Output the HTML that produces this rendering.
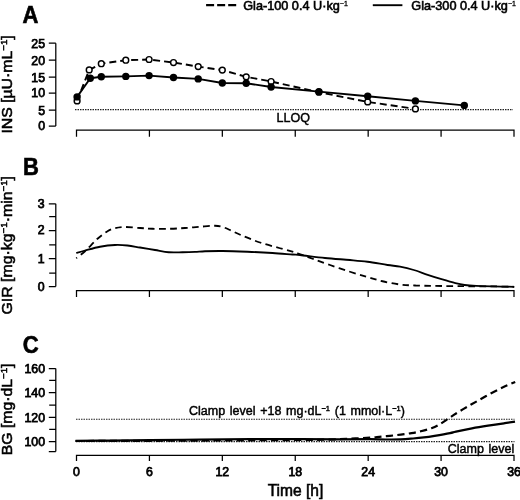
<!DOCTYPE html>
<html><head><meta charset="utf-8"><title>Figure</title>
<style>
html,body{margin:0;padding:0;background:#fff;}
body{width:520px;height:500px;overflow:hidden;}
svg{display:block;font-family:"Liberation Sans",sans-serif;fill:#000;}
.ax{fill:none;stroke:#000;stroke-width:1.25;}
.ln{fill:none;stroke:#000;stroke-width:1.9;stroke-linejoin:round;}
.lb2{stroke-width:1.8;}
.lc2{stroke-width:2.2;}
.da{stroke-dasharray:7 4;}
.dl{stroke-dasharray:8 3.05;stroke-width:2.1;}
.db{stroke-dasharray:6.6 4.4;}
.dc{stroke-dasharray:7.2 4.3;}
.dot{fill:none;stroke:#222;stroke-width:1.1;stroke-dasharray:1.5 1.0;}
.tk{font-size:12.3px;stroke:#000;stroke-width:0.75;}
.lb{font-size:12.5px;stroke:#000;stroke-width:0.45;word-spacing:1.2px;}
.lg{font-size:12.7px;stroke:#000;stroke-width:0.6;}
.pn{font-size:23.2px;font-weight:bold;stroke:#000;stroke-width:0.6;}
.yl{font-size:15.5px;stroke:#000;stroke-width:0.55;}
.xl{font-size:15.6px;stroke:#000;stroke-width:0.55;}
.fc{fill:#000;stroke:none;}
.oc{fill:#fff;stroke:#000;stroke-width:1.45;}
</style></head><body>
<svg width="520" height="500" viewBox="0 0 520 500">
<rect width="520" height="500" fill="#fff"/>

<path d="M206.1,5.1 H236.2" class="ln dl"/>
<text x="243.2" y="9.7" class="lg">Gla-100 0.4 U·kg<tspan dy="-4" font-size="7" stroke-width="0.3">−1</tspan></text>
<path d="M372.8,5.2 H402.4" class="ln" stroke-width="1.6"/>
<text x="411.3" y="9.7" class="lg">Gla-300 0.4 U·kg<tspan dy="-4" font-size="7" stroke-width="0.3">−1</tspan></text>
<text transform="translate(22.6,22.9) scale(0.95,1)" class="pn">A</text>
<path d="M55.8,43.20 V126.00 M48.8,126.00 H55.8 M48.8,110.20 H55.8 M48.8,93.00 H55.8 M48.8,77.20 H55.8 M48.8,60.20 H55.8 M48.8,43.20 H55.8" class="ax"/>
<text x="45" y="130.40" text-anchor="end" class="tk">0</text>
<text x="45" y="114.60" text-anchor="end" class="tk">5</text>
<text x="45" y="97.40" text-anchor="end" class="tk">10</text>
<text x="45" y="81.60" text-anchor="end" class="tk">15</text>
<text x="45" y="64.60" text-anchor="end" class="tk">20</text>
<text x="45" y="47.60" text-anchor="end" class="tk">25</text>
<path d="M76.5,136.7 V130.2 H514.0 V136.7 M149.42,130.2 V136.7 M222.33,130.2 V136.7 M295.25,130.2 V136.7 M368.17,130.2 V136.7 M441.08,130.2 V136.7" class="ax"/>
<path d="M75,109.6 H513" class="dot"/>
<text x="276.6" y="121.6" class="lb">LLOQ</text>
<path d="M77.10,100.90 L89.20,69.90 L101.30,63.70 L125.80,60.20 L149.10,59.50 L173.50,62.50 L198.20,66.60 L222.30,70.10 L246.20,76.80 L271.10,81.50 L318.90,92.20 L367.70,101.90 L415.40,108.90" class="ln da"/>
<path d="M77.10,96.90 L90.30,78.30 L101.30,76.80 L125.80,76.40 L149.10,75.60 L173.50,77.50 L198.20,78.90 L222.30,83.00 L246.20,83.20 L271.10,87.00 L318.90,91.60 L367.70,96.20 L415.40,100.90 L464.30,105.40" class="ln"/>
<circle cx="77.1" cy="100.9" r="2.9" class="oc"/>
<circle cx="89.2" cy="69.9" r="2.9" class="oc"/>
<circle cx="101.3" cy="63.7" r="2.9" class="oc"/>
<circle cx="125.8" cy="60.2" r="2.9" class="oc"/>
<circle cx="149.1" cy="59.5" r="2.9" class="oc"/>
<circle cx="173.5" cy="62.5" r="2.9" class="oc"/>
<circle cx="198.2" cy="66.6" r="2.9" class="oc"/>
<circle cx="222.3" cy="70.1" r="2.9" class="oc"/>
<circle cx="246.2" cy="76.8" r="2.9" class="oc"/>
<circle cx="271.1" cy="81.5" r="2.9" class="oc"/>
<circle cx="318.9" cy="92.2" r="2.9" class="oc"/>
<circle cx="367.7" cy="101.9" r="2.9" class="oc"/>
<circle cx="415.4" cy="108.9" r="2.9" class="oc"/>
<circle cx="77.1" cy="96.9" r="3.7" class="fc"/>
<circle cx="90.3" cy="78.3" r="3.7" class="fc"/>
<circle cx="101.3" cy="76.8" r="3.7" class="fc"/>
<circle cx="125.8" cy="76.4" r="3.7" class="fc"/>
<circle cx="149.1" cy="75.6" r="3.7" class="fc"/>
<circle cx="173.5" cy="77.5" r="3.7" class="fc"/>
<circle cx="198.2" cy="78.9" r="3.7" class="fc"/>
<circle cx="222.3" cy="83" r="3.7" class="fc"/>
<circle cx="246.2" cy="83.2" r="3.7" class="fc"/>
<circle cx="271.1" cy="87" r="3.7" class="fc"/>
<circle cx="318.9" cy="91.6" r="3.7" class="fc"/>
<circle cx="367.7" cy="96.2" r="3.7" class="fc"/>
<circle cx="415.4" cy="100.9" r="3.7" class="fc"/>
<circle cx="464.3" cy="105.4" r="3.7" class="fc"/>
<text transform="translate(12.4,133.6) rotate(-90)" class="yl" textLength="98.3" lengthAdjust="spacingAndGlyphs">INS [µU·mL<tspan dy="-5" font-size="9.5">−1</tspan><tspan dy="5">]</tspan></text>
<text transform="translate(22.9,174.9) scale(0.95,1)" class="pn">B</text>
<path d="M55.8,203.80 V286.60 M48.8,286.60 H55.8 M48.8,258.60 H55.8 M48.8,230.50 H55.8 M48.8,203.80 H55.8 M49.199999999999996,273.00 H55.8 M49.199999999999996,244.80 H55.8 M49.199999999999996,216.60 H55.8" class="ax"/>
<text x="44.6" y="290.50" text-anchor="end" class="tk">0</text>
<text x="44.6" y="262.50" text-anchor="end" class="tk">1</text>
<text x="44.6" y="234.40" text-anchor="end" class="tk">2</text>
<text x="44.6" y="207.70" text-anchor="end" class="tk">3</text>
<path d="M76.5,297.0 V290.5 H514.0 V297.0 M149.42,290.5 V297.0 M222.33,290.5 V297.0 M295.25,290.5 V297.0 M368.17,290.5 V297.0 M441.08,290.5 V297.0" class="ax"/>
<path d="M76.25,258.25 C77.71,257.08 81.46,254.50 85.00,251.25 C88.54,248.00 93.75,242.08 97.50,238.75 C101.25,235.42 104.58,233.01 107.50,231.25 C110.42,229.49 112.08,228.91 115.00,228.20 C117.92,227.49 120.83,227.03 125.00,227.00 C129.17,226.97 135.42,227.71 140.00,228.00 C144.58,228.29 147.50,228.62 152.50,228.75 C157.50,228.88 164.58,228.88 170.00,228.75 C175.42,228.62 180.00,228.33 185.00,228.00 C190.00,227.67 195.00,227.12 200.00,226.75 C205.00,226.38 211.25,225.71 215.00,225.75 C218.75,225.79 220.00,226.29 222.50,227.00 C225.00,227.71 226.67,228.54 230.00,230.00 C233.33,231.46 237.50,233.67 242.50,235.75 C247.50,237.83 253.75,240.42 260.00,242.50 C266.25,244.58 273.75,246.46 280.00,248.25 C286.25,250.04 292.08,251.50 297.50,253.25 C302.92,255.00 307.08,256.79 312.50,258.75 C317.92,260.71 323.75,262.83 330.00,265.00 C336.25,267.17 343.75,269.75 350.00,271.75 C356.25,273.75 362.08,275.42 367.50,277.00 C372.92,278.58 377.08,280.00 382.50,281.25 C387.92,282.50 394.58,283.79 400.00,284.50 C405.42,285.21 409.23,285.27 415.00,285.50 C420.77,285.73 426.33,285.78 434.60,285.90 C442.87,286.02 454.98,286.12 464.60,286.20 C474.22,286.28 484.03,286.30 492.30,286.40 C500.57,286.50 510.55,286.73 514.20,286.80" class="ln lb2 db" stroke-dashoffset="5.2"/>
<path d="M76.25,253.00 C77.71,252.58 81.04,251.54 85.00,250.50 C88.96,249.46 95.00,247.67 100.00,246.75 C105.00,245.83 110.42,245.21 115.00,245.00 C119.58,244.79 123.33,245.08 127.50,245.50 C131.67,245.92 135.42,246.75 140.00,247.50 C144.58,248.25 150.21,249.21 155.00,250.00 C159.79,250.79 164.17,251.88 168.75,252.25 C173.33,252.62 178.12,252.31 182.50,252.25 C186.88,252.19 191.25,252.07 195.00,251.90 C198.75,251.73 200.42,251.40 205.00,251.25 C209.58,251.10 215.42,250.92 222.50,251.00 C229.58,251.08 239.17,251.42 247.50,251.75 C255.83,252.08 265.00,252.54 272.50,253.00 C280.00,253.46 287.92,254.17 292.50,254.50 C297.08,254.83 294.58,254.42 300.00,255.00 C305.42,255.58 316.67,257.17 325.00,258.00 C333.33,258.83 342.92,259.38 350.00,260.00 C357.08,260.62 361.25,260.92 367.50,261.75 C373.75,262.58 382.08,264.18 387.50,265.00 C392.92,265.82 395.62,265.87 400.00,266.70 C404.38,267.53 409.18,268.65 413.80,270.00 C418.42,271.35 423.08,273.27 427.70,274.80 C432.32,276.33 436.88,277.80 441.50,279.20 C446.12,280.60 451.55,282.23 455.40,283.20 C459.25,284.17 461.13,284.55 464.60,285.00 C468.07,285.45 471.58,285.67 476.20,285.90 C480.82,286.13 485.97,286.25 492.30,286.40 C498.63,286.55 510.55,286.73 514.20,286.80" class="ln lb2"/>
<text transform="translate(12.4,314.5) rotate(-90)" class="yl" textLength="138.5" lengthAdjust="spacingAndGlyphs">GIR [mg·kg<tspan dy="-5" font-size="9.5">−1</tspan><tspan dy="5">·min</tspan><tspan dy="-5" font-size="9.5">−1</tspan><tspan dy="5">]</tspan></text>
<text transform="translate(22.7,353) scale(0.95,1)" class="pn">C</text>
<path d="M55.8,368.50 V451.60 M48.8,441.50 H55.8 M48.8,417.40 H55.8 M48.8,392.50 H55.8 M48.8,368.50 H55.8 M48.8,451.60 H55.8 M49.199999999999996,429.40 H55.8 M49.199999999999996,405.20 H55.8 M49.199999999999996,380.30 H55.8" class="ax"/>
<text x="45" y="445.90" text-anchor="end" class="tk">100</text>
<text x="45" y="421.80" text-anchor="end" class="tk">120</text>
<text x="45" y="396.90" text-anchor="end" class="tk">140</text>
<text x="45" y="372.90" text-anchor="end" class="tk">160</text>
<path d="M76.5,461.1 V455.3 H514.0 V461.1 M149.42,455.3 V461.1 M222.33,455.3 V461.1 M295.25,455.3 V461.1 M368.17,455.3 V461.1 M441.08,455.3 V461.1" class="ax"/>
<path d="M76,419.3 H514.5" class="dot"/>
<path d="M76,441.6 H514.5" class="dot"/>
<text x="189" y="415.2" class="lb">Clamp level +18 mg·dL<tspan dy="-4" font-size="7.5">−1</tspan><tspan dy="4"> (1 mmol·L</tspan><tspan dy="-4" font-size="7.5">−1</tspan><tspan dy="4">)</tspan></text>
<text x="514.3" y="452.7" text-anchor="end" class="lb">Clamp level</text>
<path d="M75.50,441.00 C87.92,440.97 120.92,440.92 150.00,440.80 C179.08,440.68 225.00,440.43 250.00,440.30 C275.00,440.17 287.00,440.12 300.00,440.00 C313.00,439.88 319.67,439.83 328.00,439.60 C336.33,439.37 343.00,438.92 350.00,438.60 C357.00,438.28 365.13,437.98 370.00,437.70 C374.87,437.42 375.87,437.22 379.20,436.90 C382.53,436.58 386.40,436.18 390.00,435.80 C393.60,435.42 397.22,435.05 400.80,434.60 C404.38,434.15 408.17,433.67 411.50,433.10 C414.83,432.53 417.47,432.02 420.80,431.20 C424.13,430.38 428.43,429.30 431.50,428.20 C434.57,427.10 436.37,426.22 439.20,424.60 C442.03,422.98 445.70,420.35 448.50,418.50 C451.30,416.65 452.88,415.45 456.00,413.50 C459.12,411.55 463.47,408.98 467.20,406.80 C470.93,404.62 474.40,402.67 478.40,400.40 C482.40,398.13 486.93,395.47 491.20,393.20 C495.47,390.93 500.00,388.67 504.00,386.80 C508.00,384.93 513.33,382.80 515.20,382.00" class="ln lc2 dc"/>
<path d="M75.50,440.80 C81.25,440.77 97.58,440.72 110.00,440.60 C122.42,440.48 135.00,440.27 150.00,440.10 C165.00,439.93 183.33,439.75 200.00,439.60 C216.67,439.45 233.33,439.27 250.00,439.20 C266.67,439.13 285.00,439.18 300.00,439.20 C315.00,439.22 328.33,439.30 340.00,439.30 C351.67,439.30 362.43,439.17 370.00,439.20 C377.57,439.23 380.27,439.47 385.40,439.50 C390.53,439.53 396.18,439.57 400.80,439.40 C405.42,439.23 409.27,438.83 413.10,438.50 C416.93,438.17 420.22,437.85 423.80,437.40 C427.38,436.95 430.23,436.52 434.60,435.80 C438.97,435.08 446.43,433.80 450.00,433.10 C453.57,432.40 452.33,432.38 456.00,431.60 C459.67,430.82 466.67,429.38 472.00,428.40 C477.33,427.42 482.67,426.55 488.00,425.70 C493.33,424.85 499.50,423.98 504.00,423.30 C508.50,422.62 513.17,421.88 515.00,421.60" class="ln lc2"/>
<text transform="translate(12.4,455.3) rotate(-90)" class="yl" textLength="91.8" lengthAdjust="spacingAndGlyphs">BG [mg·dL<tspan dy="-5" font-size="9.5">−1</tspan><tspan dy="5">]</tspan></text>
<text x="76.50" y="475.7" text-anchor="middle" class="tk">0</text>
<text x="149.42" y="475.7" text-anchor="middle" class="tk">6</text>
<text x="222.33" y="475.7" text-anchor="middle" class="tk">12</text>
<text x="295.25" y="475.7" text-anchor="middle" class="tk">18</text>
<text x="368.17" y="475.7" text-anchor="middle" class="tk">24</text>
<text x="441.08" y="475.7" text-anchor="middle" class="tk">30</text>
<text x="514.00" y="475.7" text-anchor="middle" class="tk">36</text>
<text x="295.5" y="496.2" text-anchor="middle" class="xl">Time [h]</text>
</svg></body></html>
